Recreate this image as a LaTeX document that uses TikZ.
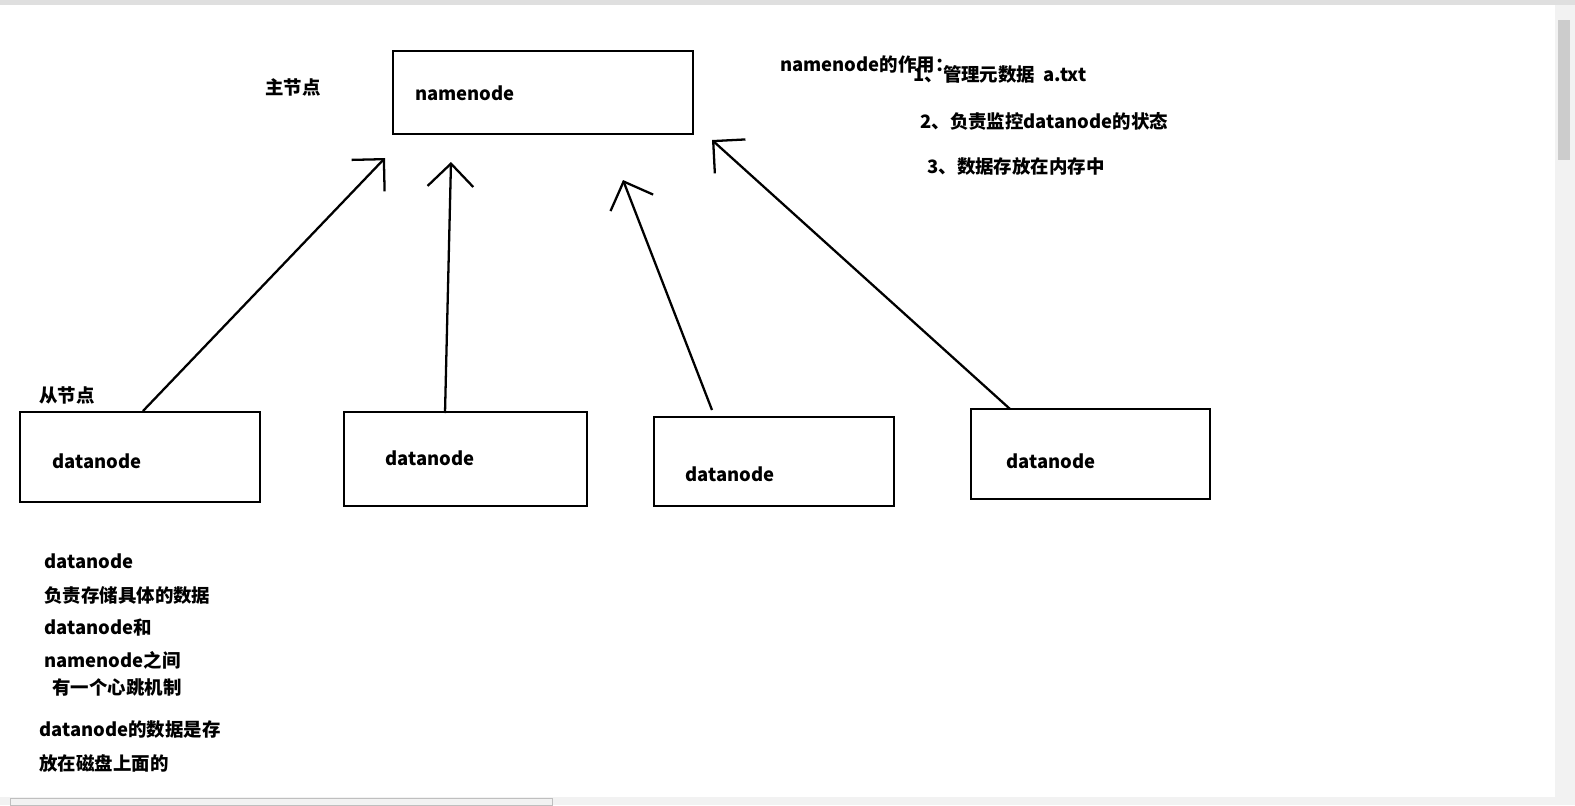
\documentclass[tikz,border=0pt]{standalone}
\usepackage{fontspec}
\setmainfont{Noto Sans CJK SC}
\usetikzlibrary{arrows.meta}
\begin{document}
\begin{tikzpicture}[x=0.02cm,y=-0.02cm,
  box/.style={draw,line width=1.6pt},
  lbl/.style={anchor=west,inner sep=0pt,font=\fontsize{10.5}{12}\selectfont\bfseries},
  arr/.style={line width=1.3pt,-{Straight Barb[length=13pt,width=26pt,line width=1.3pt]}}]
\useasboundingbox (0,0) rectangle (1575,805);
\fill[gray!25] (0,0) rectangle (1575,5);
\fill[gray!10] (1555,5) rectangle (1575,805);
\fill[gray!40] (1558,20) rectangle (1570,160);
\fill[gray!10] (0,797) rectangle (1555,805);
\draw[gray!50] (10,798) rectangle (552,805);
% namenode
\draw[box] (393,51) rectangle (693,134);
\node[lbl] (nn) at (415,93) {namenode};
\node[lbl] (master) at (265,87) {主节点};
\node[lbl] (role) at (780,65) {namenode的作用：};
\node[lbl] (r1) at (913,74) {1、管理元数据~~a.txt};
\node[lbl] (r2) at (920,121) {2、负责监控datanode的状态};
\node[lbl] (r3) at (927,166) {3、数据存放在内存中};
% datanodes
\draw[box] (20,412) rectangle (260,502);
\draw[box] (344,412) rectangle (587,506);
\draw[box] (654,417) rectangle (894,506);
\draw[box] (971,409) rectangle (1210,499);
\node[lbl] (d1) at (52,461) {datanode};
\node[lbl] (d2) at (385,458) {datanode};
\node[lbl] (d3) at (685,474) {datanode};
\node[lbl] (d4) at (1006,461) {datanode};
\node[lbl] (slave) at (39,395) {从节点};
% arrows
\coordinate (a1s) at (143,411); \coordinate (a1e) at (385,158);
\coordinate (a2s) at (445,413); \coordinate (a2e) at (451,162);
\coordinate (a3s) at (712,410); \coordinate (a3e) at (623,180);
\coordinate (a4s) at (1010,409); \coordinate (a4e) at (712,140);
\draw[arr] (a1s) -- (a1e);
\draw[arr] (a2s) -- (a2e);
\draw[arr] (a3s) -- (a3e);
\draw[arr] (a4s) -- (a4e);
% notes
\node[lbl] (t1) at (44,561) {datanode};
\node[lbl] (t2) at (44,595) {负责存储具体的数据};
\node[lbl] (t3) at (44,628) {datanode和};
\node[lbl] (t4) at (44,660) {namenode之间};
\node[lbl] (t5) at (52,687) {有一个心跳机制};
\node[lbl] (t6) at (39,730) {datanode的数据是存};
\node[lbl] (t7) at (39,763) {放在磁盘上面的};
\end{tikzpicture}
\end{document}
